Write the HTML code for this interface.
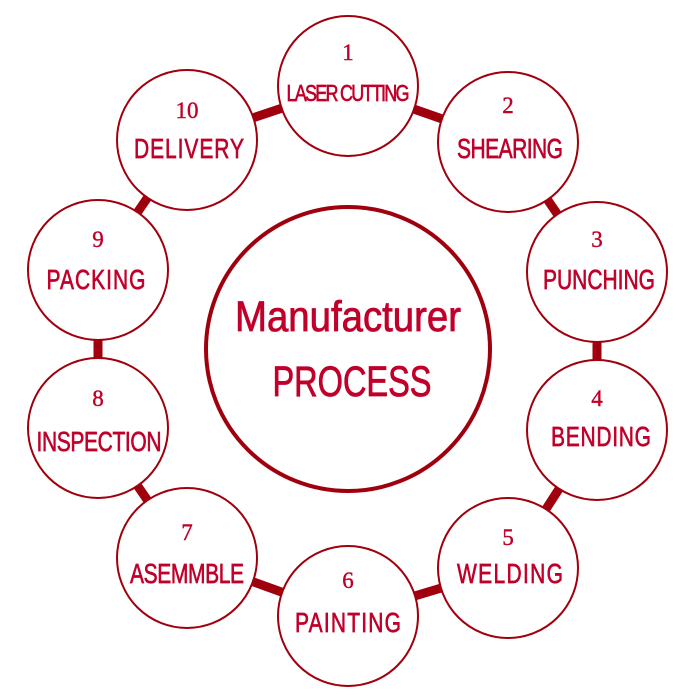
<!DOCTYPE html>
<html><head><style>body{margin:0;background:#fff}svg{display:block}</style></head><body>
<svg width="700" height="700" viewBox="0 0 700 700" xmlns="http://www.w3.org/2000/svg">
<g stroke="#a0000e" stroke-width="9" fill="none">
<polyline points="348,86 508,142 597,272 597,430 508,568 348,616 187,558 98,428 98,270 187,140 348,86"/>
</g>
<g fill="#fff" stroke="#a0000e" stroke-width="2">
<circle cx="348" cy="86" r="70"/>
<circle cx="508" cy="142" r="70"/>
<circle cx="597" cy="272" r="70"/>
<circle cx="597" cy="430" r="70"/>
<circle cx="508" cy="568" r="70"/>
<circle cx="348" cy="616" r="70"/>
<circle cx="187" cy="558" r="70"/>
<circle cx="98" cy="428" r="70"/>
<circle cx="98" cy="270" r="70"/>
<circle cx="187" cy="140" r="70"/>
</g>
<circle cx="348" cy="349" r="142" fill="#fff" stroke="#a0000e" stroke-width="4"/>
<g fill="#c0002a" stroke="#c0002a" text-anchor="middle">
<g stroke-width="0.8">
<text x="348" y="331" font-family="Liberation Sans, sans-serif" font-size="43" textLength="226" lengthAdjust="spacingAndGlyphs">Manufacturer</text>
<text x="352" y="396" font-family="Liberation Sans, sans-serif" font-size="43" textLength="159" lengthAdjust="spacingAndGlyphs">PROCESS</text>
</g>
<g font-family="Liberation Serif, serif" font-size="23" stroke-width="0.4">
<text x="348" y="60">1</text>
<text x="508" y="113">2</text>
<text x="597" y="247">3</text>
<text x="597" y="406">4</text>
<text x="508" y="545">5</text>
<text x="348" y="588">6</text>
<text x="187" y="540">7</text>
<text x="98" y="406">8</text>
<text x="98" y="247">9</text>
<text x="187" y="118">10</text>
</g>
<g font-family="Liberation Sans, sans-serif" font-size="21" lengthAdjust="spacingAndGlyphs" stroke-width="0.5">
<text transform="translate(348,101) scale(1,1.3)" font-size="18" textLength="123">LASER CUTTING</text>
<text transform="translate(510,158) scale(1,1.3)" textLength="106">SHEARING</text>
<text transform="translate(599,289) scale(1,1.3)" textLength="112">PUNCHING</text>
<text transform="translate(601,446) scale(1,1.3)" textLength="100">BENDING</text>
<text transform="translate(510,583) scale(1,1.3)" textLength="106">WELDING</text>
<text transform="translate(348,632) scale(1,1.3)" textLength="106">PAINTING</text>
<text transform="translate(187,583) scale(1,1.3)" textLength="114">ASEMMBLE</text>
<text transform="translate(99,451) scale(1,1.3)" textLength="125">INSPECTION</text>
<text transform="translate(96,289) scale(1,1.3)" textLength="99">PACKING</text>
<text transform="translate(189,158) scale(1,1.3)" textLength="110">DELIVERY</text>
</g>
</g>
</svg>
</body></html>
